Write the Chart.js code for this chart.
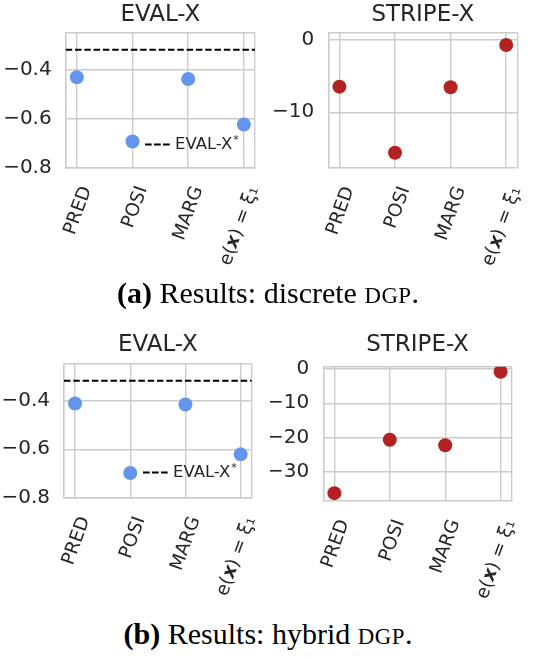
<!DOCTYPE html>
<html><head><meta charset="utf-8">
<script src="https://cdn.jsdelivr.net/npm/chart.js@4.4.1/dist/chart.umd.min.js"></script>
<style>
html,body{margin:0;padding:0;background:#fff;}
body{width:540px;height:657px;position:relative;overflow:hidden;}
canvas{position:absolute;}
.legtxt{position:absolute;font-family:'DejaVu Sans';font-size:16.5px;color:#262626;white-space:nowrap;line-height:1;}
.legtxt sup{font-size:11px;position:relative;top:-2px;vertical-align:top;margin-left:1px;}
.legline{position:absolute;}
.cap{position:absolute;left:0;width:536px;text-align:center;font-family:'Liberation Serif','Times New Roman',serif;font-size:30px;color:#000;white-space:nowrap;line-height:1;}
.sc{font-size:0.76em;letter-spacing:0.5px;}
</style></head><body>
<canvas id="c1" width="270" height="280" style="left:0;top:0"></canvas>
<canvas id="c2" width="270" height="280" style="left:270px;top:0"></canvas>
<canvas id="c3" width="270" height="280" style="left:0;top:330px"></canvas>
<canvas id="c4" width="270" height="280" style="left:270px;top:330px"></canvas>

<svg class="legline" style="left:145px;top:142.5px" width="26" height="3"><line x1="0" y1="1.5" x2="26" y2="1.5" stroke="#000" stroke-width="1.9" stroke-dasharray="6.7,2.3"/></svg>
<div class="legtxt" style="left:175px;top:136px">EVAL-X<sup>*</sup></div>
<svg class="legline" style="left:143px;top:471.2px" width="26" height="3"><line x1="0" y1="1.5" x2="26" y2="1.5" stroke="#000" stroke-width="1.9" stroke-dasharray="6.7,2.3"/></svg>
<div class="legtxt" style="left:173px;top:464.3px">EVAL-X<sup>*</sup></div>

<div class="cap" style="top:277.9px"><b>(a)</b> Results: discrete <span class="sc">DGP</span>.</div>
<div class="cap" style="top:618.9px"><b>(b)</b> Results: hybrid <span class="sc">DGP</span>.</div>

<script>
// ---- data ----
const categories = ['PRED', 'POSI', 'MARG', 'e(\u{1D66D}) = \u03BE\u2081'];
const evalDiscrete = [-0.430, -0.694, -0.437, -0.624];
const evalDiscreteStar = -0.317;
const stripeDiscrete = [-6.46, -15.6, -6.55, -0.69];
const evalHybrid = [-0.411, -0.698, -0.415, -0.621];
const evalHybridStar = -0.317;
const stripeHybrid = [-36.3, -20.7, -22.3, -0.8];
const evalTicks = [-0.8, -0.6, -0.4];
const stripeDiscreteTicks = [-10, 0];
const stripeHybridTicks = [-30, -20, -10, 0];
const evalRange = [-0.8, -0.245];
const stripeDiscreteRange = [-17.66, 1.0];
const stripeHybridRange = [-38.5, 0.67];
const xRange = [-0.2, 3.2];

const BLUE = '#6495ED', RED = '#B22222', TXT = '#262626', GRID = '#cccccc';
Chart.defaults.font.family = 'DejaVu Sans';

function buildChart(c) {
  const datasets = [{
    data: c.values.map((v, i) => ({x: i, y: v})),
    backgroundColor: c.color, borderColor: c.color, borderWidth: 0,
    pointRadius: 7, pointHoverRadius: 7, order: 1
  }];
  if (c.star !== undefined) {
    datasets.push({
      data: xRange.map(x => ({x: x, y: c.star})),
      showLine: true, borderColor: '#000', borderWidth: 1.9, borderDash: [6.5, 2.8],
      pointRadius: 0, pointHoverRadius: 0, fill: false, order: 2
    });
  }
  return new Chart(document.getElementById(c.id), {
    type: 'scatter',
    data: {datasets},
    options: {
      responsive: false, animation: false, events: [],
      layout: {padding: {left: 0, right: c.padRight, top: 0, bottom: 0}},
      plugins: {
        legend: {display: false}, tooltip: {enabled: false},
        title: {display: true, text: c.title, fullSize: false, color: TXT,
          font: {size: 23, weight: 'normal', lineHeight: 1.2},
          padding: {top: 1.2, bottom: c.plotTop - 28.8}}
      },
      scales: {
        x: {
          type: 'linear', min: xRange[0], max: xRange[1],
          afterBuildTicks: s => { s.ticks = [xRange[0], ...categories.map((_, i) => i), xRange[1]].map(v => ({value: v})); },
          afterFit: s => { s.height = c.xHeight; s.paddingLeft = 0; s.paddingRight = 0; },
          grid: {color: GRID, lineWidth: 1.4, drawTicks: false},
          border: {color: GRID, width: 1.4},
          ticks: {autoSkip: false, minRotation: 70, maxRotation: 70, padding: 16, labelOffset: 10,
            color: TXT, font: {size: 18.5},
            callback: v => (Number.isInteger(v) && categories[v] !== undefined) ? categories[v] : ''}
        },
        y: {
          type: 'linear', min: c.yRange[0], max: c.yRange[1],
          afterBuildTicks: s => { s.ticks = [...c.yTicks, c.yRange[1]].map(v => ({value: v})); },
          afterFit: s => { s.width = c.yWidth; s.paddingTop = 0; s.paddingBottom = 0; },
          grid: {color: GRID, lineWidth: 1.4, drawTicks: false},
          border: {color: GRID, width: 1.4},
          ticks: {padding: 14, color: TXT, font: {size: 20},
            callback: v => c.yTicks.includes(v) ? String(v).replace('-', '\u2212') : ''}
        }
      }
    }
  });
}

buildChart({id: 'c1', title: 'EVAL-X', values: evalDiscrete, color: BLUE, star: evalDiscreteStar,
  yRange: evalRange, yTicks: evalTicks, yWidth: 65.7, padRight: 15, plotTop: 32.3, xHeight: 112.7});
buildChart({id: 'c2', title: 'STRIPE-X', values: stripeDiscrete, color: RED,
  yRange: stripeDiscreteRange, yTicks: stripeDiscreteTicks, yWidth: 58.3, padRight: 22.7, plotTop: 32.7, xHeight: 112.3});
buildChart({id: 'c3', title: 'EVAL-X', values: evalHybrid, color: BLUE, star: evalHybridStar,
  yRange: evalRange, yTicks: evalTicks, yWidth: 64, padRight: 18.3, plotTop: 33.3, xHeight: 112.3});
buildChart({id: 'c4', title: 'STRIPE-X', values: stripeHybrid, color: RED,
  yRange: stripeHybridRange, yTicks: stripeHybridTicks, yWidth: 53.3, padRight: 28.3, plotTop: 36.7, xHeight: 109.3});
</script>
</body></html>
